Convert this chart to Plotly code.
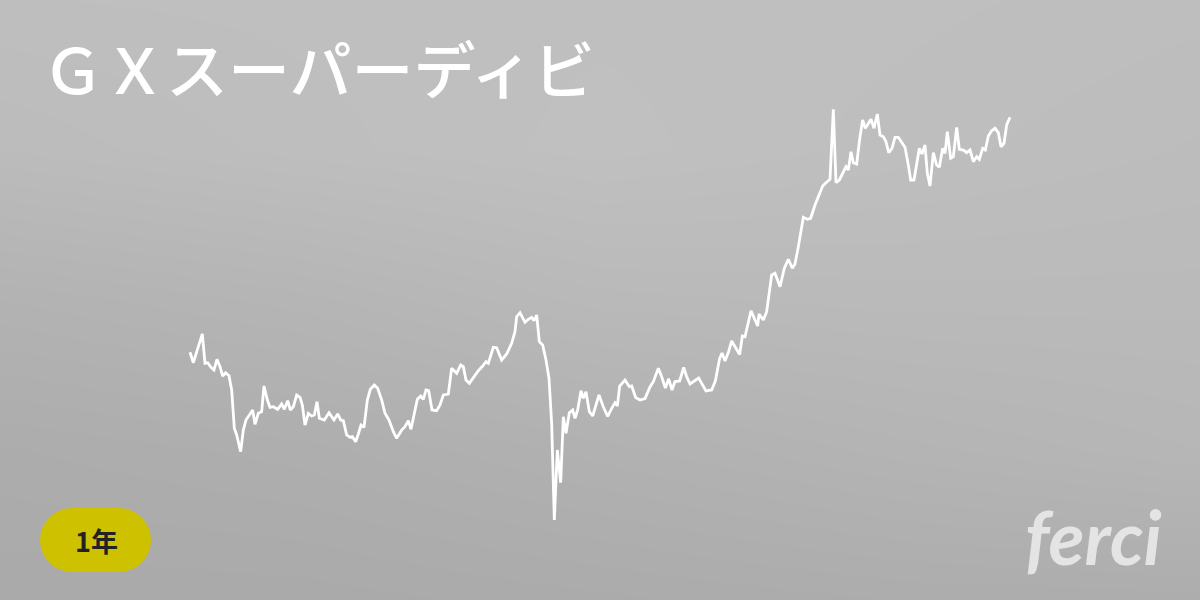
import plotly.graph_objects as go

# --- data: trading-day offset and price ---
days = [0.0, 1.0, 2.5, 3.7, 4.5, 5.3, 6.3, 7.2, 8.1, 9.0, 9.8, 10.7, 11.7, 12.5, 13.3, 14.0, 15.2, 16.0, 16.8, 18.0,
        18.8, 19.5, 20.5, 21.5, 22.2, 23.2, 24.0, 25.0, 26.3, 27.5, 28.3, 29.3, 30.1, 31.0, 32.0, 33.0, 33.7, 34.5, 35.5, 36.5,
        37.3, 38.1, 38.8, 40.3, 41.7, 43.2, 44.3, 45.2, 46.0, 47.0, 48.0, 48.7, 49.7, 50.5, 51.3, 52.2, 53.2, 54.1, 55.3, 56.3,
        57.5, 58.5, 59.7, 61.0, 62.0, 63.5, 64.5, 65.5, 66.3, 67.2, 68.2, 69.2, 70.0, 70.8, 71.6, 72.6, 74.0, 75.0, 76.0, 77.5,
        78.5, 80.0, 81.2, 82.0, 82.8, 83.8, 85.5, 86.5, 87.8, 88.8, 89.5, 91.0, 92.0, 93.5, 95.0, 96.5, 97.5, 98.0, 99.0, 100.5,
        101.5, 102.5, 103.2, 104.0, 104.8, 105.8, 106.8, 107.7, 108.5, 109.3, 110.2, 111.2, 112.0, 112.8, 113.8, 114.8, 115.5, 116.3, 117.3, 118.0,
        118.8, 119.8, 120.8, 122.0, 122.7, 123.9, 125.3, 126.5, 127.5, 128.2, 128.9, 130.5, 131.8, 132.5, 133.7, 135.0, 136.5, 138.0, 139.0, 140.5,
        141.5, 142.6, 143.6, 144.6, 145.5, 146.9, 148.1, 149.0, 150.0, 152.6, 154.1, 154.8, 156.5, 157.6, 158.9, 159.6, 160.5, 161.6, 162.5, 163.7,
        164.9, 165.7, 166.5, 168.3, 169.3, 170.3, 170.7, 172.0, 173.0, 174.5, 175.5, 177.0, 178.3, 179.5, 180.7, 181.5, 182.5, 184.0, 185.2, 186.2,
        187.5, 188.5, 189.8, 190.8, 192.0, 193.0, 193.8, 194.8, 195.8, 196.8, 197.5, 198.3, 199.0, 200.0, 201.0, 201.8, 202.6, 203.5, 204.3, 205.2,
        206.2, 207.0, 208.0, 208.8, 209.6, 210.6, 211.5, 212.5, 213.5, 214.5, 215.5, 216.2, 217.2, 218.2, 218.8, 219.6, 220.5, 221.2, 222.0, 223.0,
        224.0, 224.8, 225.8, 226.5, 227.2, 228.2, 229.0, 230.0, 230.8, 232.0, 233.0, 234.0, 235.0, 236.0, 236.8, 237.8, 238.6, 239.5, 240.5, 241.5,
        242.5, 243.3, 244.2, 245.0, 246.0]
prices = [1107.7, 1097.3, 1113.3, 1126.0, 1096.7, 1097.3, 1092.7, 1090.0, 1100.7, 1093.3, 1084.0, 1087.3, 1084.3, 1070.0, 1031.7, 1025.0, 1008.3, 1030.0, 1040.0, 1046.0,
          1050.0, 1035.7, 1046.7, 1048.3, 1074.0, 1060.0, 1052.7, 1053.3, 1050.7, 1056.0, 1050.7, 1059.3, 1050.0, 1053.3, 1065.0, 1062.7, 1055.0, 1035.0, 1046.7, 1044.0,
          1045.0, 1058.3, 1041.7, 1040.0, 1047.3, 1040.0, 1046.0, 1040.0, 1039.3, 1025.0, 1022.7, 1023.3, 1018.3, 1026.0, 1035.0, 1032.7, 1060.0, 1070.7, 1075.0, 1071.7,
          1060.0, 1046.7, 1040.0, 1028.3, 1021.7, 1030.0, 1033.3, 1039.3, 1030.7, 1045.0, 1060.7, 1064.0, 1060.7, 1070.0, 1069.3, 1050.0, 1049.3, 1055.0, 1065.0, 1066.0,
          1091.7, 1086.7, 1095.0, 1093.3, 1080.0, 1076.7, 1085.0, 1089.3, 1094.0, 1098.3, 1096.7, 1112.7, 1112.3, 1100.0, 1106.0, 1116.7, 1128.3, 1143.3, 1147.3, 1137.7,
          1140.7, 1142.7, 1139.3, 1145.0, 1118.3, 1115.0, 1100.0, 1081.7, 1036.7, 940.0, 1010.0, 977.3, 1043.3, 1026.7, 1047.3, 1050.0, 1041.7, 1050.0, 1069.3, 1061.7,
          1068.3, 1048.3, 1044.0, 1056.7, 1065.0, 1054.0, 1043.5, 1051.7, 1057.3, 1054.0, 1074.0, 1080.0, 1073.3, 1074.0, 1062.5, 1060.0, 1061.5, 1073.0, 1078.3, 1091.7,
          1083.3, 1072.0, 1081.2, 1070.0, 1078.5, 1079.0, 1092.5, 1083.3, 1076.0, 1082.0, 1073.0, 1069.0, 1070.0, 1079.0, 1101.7, 1107.0, 1099.0, 1108.5, 1119.0, 1112.0,
          1105.5, 1124.0, 1123.3, 1149.3, 1141.7, 1134.0, 1146.0, 1140.0, 1148.3, 1185.0, 1186.7, 1173.3, 1191.7, 1200.7, 1191.7, 1196.0, 1213.3, 1242.7, 1240.7, 1241.7,
          1255.0, 1263.3, 1274.0, 1277.3, 1280.7, 1350.7, 1277.3, 1280.0, 1287.3, 1293.3, 1290.0, 1308.3, 1297.3, 1296.0, 1323.3, 1340.0, 1331.7, 1337.3, 1340.7, 1331.7,
          1346.0, 1325.0, 1323.3, 1318.3, 1307.3, 1311.7, 1322.7, 1322.7, 1317.3, 1312.7, 1295.0, 1280.0, 1280.0, 1300.7, 1311.7, 1306.0, 1315.0, 1286.7, 1274.0, 1307.3,
          1295.0, 1292.7, 1311.7, 1306.7, 1328.3, 1301.7, 1303.3, 1332.7, 1310.7, 1310.0, 1307.3, 1310.0, 1298.3, 1303.3, 1300.7, 1311.7, 1310.0, 1324.0, 1329.3, 1331.7,
          1327.3, 1313.3, 1316.7, 1335.0, 1342.7]

title_text = "ＧＸスーパーディビ"
period_label = "1年"
brand_label = "ferci"

# background gradient (gray levels), purely decorative
bg_x = [-0.05, 0.25, 0.5, 0.75, 1.05]
bg_y = [-0.05, 0.25, 0.5, 0.75, 1.05]
bg_z = [
    [169, 169, 170, 171, 171],
    [172, 174, 177, 180, 183],
    [178, 181, 185, 186, 186],
    [187, 190, 192, 190, 188],
    [191, 191, 191, 191, 190],
]

fig = go.Figure()
fig.add_trace(go.Heatmap(
    x=bg_x, y=bg_y, z=bg_z, zmin=0, zmax=255, zsmooth="best",
    colorscale=[[0, "rgb(0,0,0)"], [1, "rgb(255,255,255)"]],
    showscale=False, hoverinfo="skip", xaxis="x", yaxis="y",
))
fig.add_trace(go.Scatter(
    x=days, y=prices, mode="lines",
    line=dict(color="white", width=2.8),
    xaxis="x2", yaxis="y2", hoverinfo="skip",
))

hidden = dict(visible=False, showgrid=False, zeroline=False, fixedrange=True)
fig.update_layout(
    width=1200, height=600,
    margin=dict(l=0, r=0, t=0, b=0),
    paper_bgcolor="#b8b8b8", plot_bgcolor="#b8b8b8",
    showlegend=False,
    xaxis=dict(range=[0, 1], domain=[0, 1], **hidden),
    yaxis=dict(range=[0, 1], domain=[0, 1], **hidden),
    xaxis2=dict(range=[-57, 303], overlaying="x", **hidden),
    yaxis2=dict(range=[860, 1460], overlaying="y", **hidden),
)

# pill badge
pill_color = "#cec200"
fig.add_shape(type="circle", xref="paper", yref="paper",
              x0=40 / 1200, x1=104 / 1200, y0=1 - 572 / 600, y1=1 - 508 / 600,
              fillcolor=pill_color, line=dict(width=0), layer="above")
fig.add_shape(type="circle", xref="paper", yref="paper",
              x0=87 / 1200, x1=151 / 1200, y0=1 - 572 / 600, y1=1 - 508 / 600,
              fillcolor=pill_color, line=dict(width=0), layer="above")
fig.add_shape(type="rect", xref="paper", yref="paper",
              x0=72 / 1200, x1=119 / 1200, y0=1 - 572 / 600, y1=1 - 508 / 600,
              fillcolor=pill_color, line=dict(width=0), layer="above")

fig.add_annotation(text=title_text, xref="paper", yref="paper",
                   x=40 / 1200, y=1 - 67 / 600, xanchor="left", yanchor="middle",
                   showarrow=False,
                   font=dict(family="Noto Sans CJK JP", size=62, color="white", weight=500))
fig.add_annotation(text=period_label, xref="paper", yref="paper",
                   x=97 / 1200, y=1 - 540 / 600, xanchor="center", yanchor="middle",
                   showarrow=False,
                   font=dict(family="Noto Sans CJK JP", size=27, color="#222222", weight="bold"))
fig.add_annotation(text=brand_label, xref="paper", yref="paper",
                   x=1093 / 1200, y=1 - 536 / 600, xanchor="center", yanchor="middle",
                   showarrow=False,
                   font=dict(family="Lato", size=74, color="#e4e4e4", weight="bold", style="italic"))

fig.write_html("out.html", config={"displayModeBar": False},
               post_script="document.body.style.margin='0';document.body.style.overflow='hidden';")
